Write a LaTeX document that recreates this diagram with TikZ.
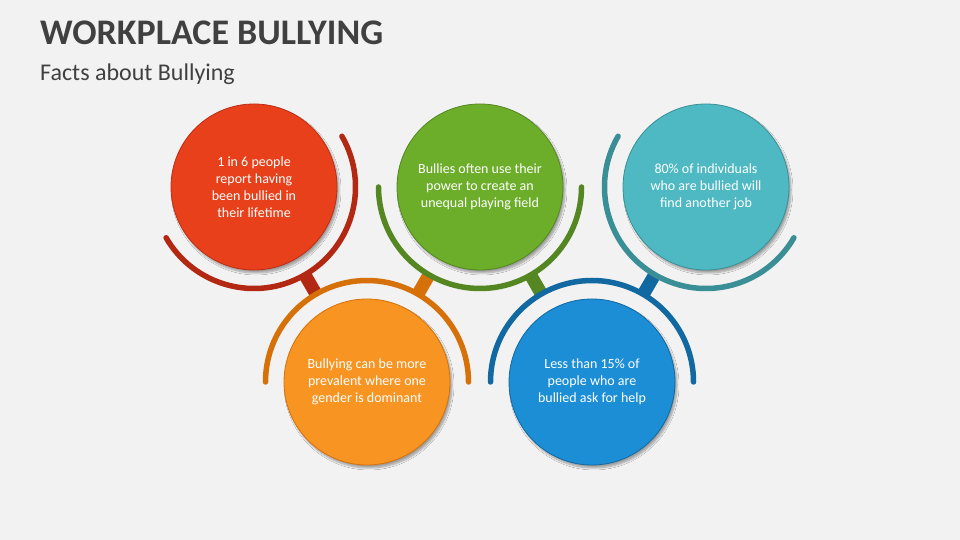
\documentclass[tikz,border=0pt]{standalone}
\usepackage{fontspec}
\setmainfont{Carlito}
\usepackage{xcolor}
\usepackage{tikz}
\usetikzlibrary{calc,shadows.blur}
\definecolor{BgGray}{RGB}{242,242,242}
\definecolor{TitleGray}{RGB}{64,64,64}
\definecolor{FillRed}{RGB}{232,64,26}
\definecolor{ArcRed}{RGB}{178,40,18}
\definecolor{FillGreen}{RGB}{108,174,42}
\definecolor{ArcGreen}{RGB}{84,134,34}
\definecolor{FillTeal}{RGB}{78,185,194}
\definecolor{ArcTeal}{RGB}{58,143,150}
\definecolor{FillOrange}{RGB}{247,148,34}
\definecolor{ArcOrange}{RGB}{214,112,8}
\definecolor{FillBlue}{RGB}{28,142,214}
\definecolor{ArcBlue}{RGB}{18,104,160}

\begin{document}
\begin{tikzpicture}[
  x=1pt, y=1pt,
  line join=round,
  bubble/.style={circle, minimum size=166pt, inner sep=0pt, align=center,
    text=white, line width=0.8pt, font=\fontsize{14}{16.8}\selectfont,
    blur shadow={shadow xshift=2pt, shadow yshift=-3pt, shadow blur steps=8, shadow opacity=35}},
  ring/.style={line width=5.5pt, line cap=round},
  link/.style={line width=13pt}
]
  % Background
  \fill[BgGray] (0,0) rectangle (960,540);
  \useasboundingbox (0,0) rectangle (960,540);

  % Title
  \node[anchor=base west, inner sep=0pt, text=TitleGray,
        font=\bfseries\fontsize{36}{40}\selectfont] (title) at (40,495) {WORKPLACE BULLYING};
  \node[anchor=base west, inner sep=0pt, text=TitleGray,
        font=\fontsize{24}{28}\selectfont] (subtitle) at (40,459) {Facts about Bullying};

  % Centres
  \coordinate (cRed)    at (254,353);
  \coordinate (cOrange) at (367,158);
  \coordinate (cGreen)  at (480,353);
  \coordinate (cBlue)   at (592,158);
  \coordinate (cTeal)   at (706,353);

  % Links
  \foreach \up/\down/\col in {cRed/cOrange/ArcRed, cGreen/cOrange/ArcOrange,
                               cGreen/cBlue/ArcGreen, cTeal/cBlue/ArcBlue}{
    \draw[link, \col] ($(\up)!101pt!(\down)$) -- ($(\down)!101pt!(\up)$);
  }

  % Rings
  \foreach \c/\s/\e/\col in {cRed/30/-150/ArcRed, cGreen/0/-180/ArcGreen,
                              cTeal/-30/-210/ArcTeal, cOrange/0/180/ArcOrange,
                              cBlue/0/180/ArcBlue}{
    \draw[ring, \col] ($(\c)+(\s:101.5)$) arc[start angle=\s, end angle=\e, radius=101.5];
  }

  % Bubbles
  \node[bubble, fill=FillRed, draw=ArcRed!80!FillRed] (red) at (cRed)
    {1 in 6 people\\report having\\been bullied in\\their lifetime};
  \node[bubble, fill=FillGreen, draw=ArcGreen] (green) at (cGreen)
    {Bullies often use their\\power to create an\\unequal playing field};
  \node[bubble, fill=FillTeal, draw=ArcTeal] (teal) at (cTeal)
    {80\% of individuals\\who are bullied will\\find another job};
  \node[bubble, fill=FillOrange, draw=ArcOrange] (orange) at (cOrange)
    {Bullying can be more\\prevalent where one\\gender is dominant};
  \node[bubble, fill=FillBlue, draw=ArcBlue] (blue) at (cBlue)
    {Less than 15\% of\\people who are\\bullied ask for help};
\end{tikzpicture}
\end{document}
